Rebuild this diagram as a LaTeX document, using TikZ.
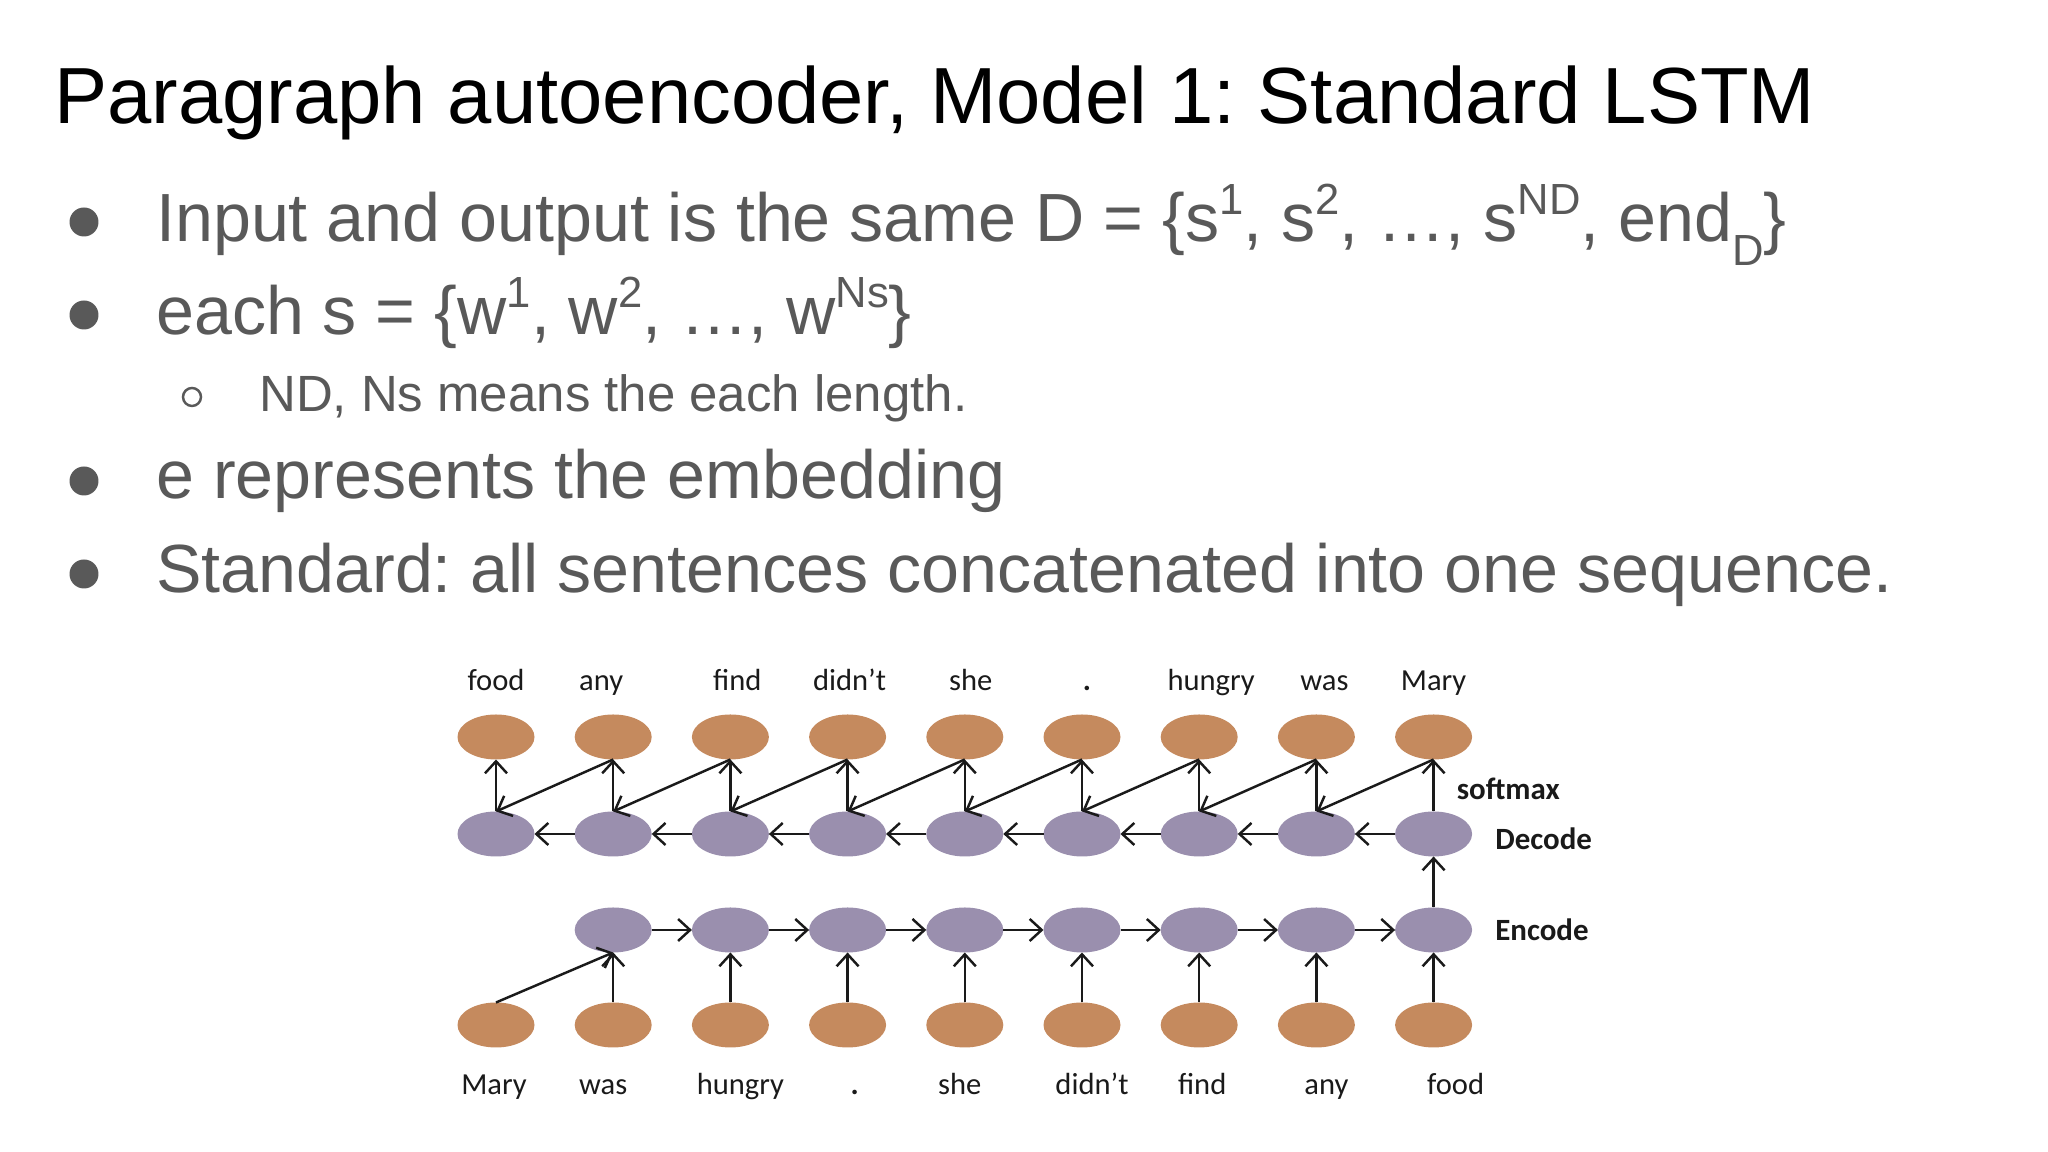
\documentclass[tikz,border=0pt]{standalone}
\usepackage{fontspec}
\setmainfont{Liberation Sans}
\newfontfamily\carlito{Carlito}
\usetikzlibrary{arrows.meta, positioning, shapes.geometric}
\usepackage{xcolor}
\frenchspacing

\definecolor{wordorange}{HTML}{C58A5E}
\definecolor{cellpurple}{HTML}{9A8FAE}
\definecolor{bulletgray}{HTML}{595959}
\definecolor{diagink}{HTML}{1A1A1A}

\newcommand{\supx}[1]{\raisebox{0.40em}{\fontsize{12.4}{12}\selectfont #1}}
\newcommand{\subx}[1]{\raisebox{-0.35em}{\fontsize{12.4}{12}\selectfont #1}}

\begin{document}
\begin{tikzpicture}[
  wordcell/.style ={ellipse, fill=wordorange, minimum width=0.77cm, minimum height=0.45cm, inner sep=0pt, outer sep=0pt},
  lstmcell/.style ={ellipse, fill=cellpurple, minimum width=0.77cm, minimum height=0.45cm, inner sep=0pt, outer sep=0pt},
  tok/.style      ={font=\carlito\fontsize{8.7}{10}\selectfont, text=diagink, inner sep=0pt},
  tag/.style      ={font=\carlito\bfseries\fontsize{8.8}{10}\selectfont, text=diagink, inner sep=0pt},
  slidetext/.style={anchor=base west, inner sep=0pt, text=bulletgray, font=\fontsize{19.4}{23}\selectfont},
  bulletdot/.style={circle, fill=bulletgray, minimum size=0.29cm, inner sep=0pt},
  subdot/.style   ={circle, draw=bulletgray, line width=0.7pt, minimum size=0.18cm, inner sep=0pt},
  ->, >={Straight Barb[length=1.2mm, width=2.2mm]}, line width=0.7pt, diagink
]
\useasboundingbox (0,0) rectangle (20.48,11.52);

% slide text
\node[anchor=base west, inner sep=0pt, text=black, font=\fontsize{22.65}{27}\selectfont] (title) at (0.53,10.28)
  {Paragraph autoencoder, Model 1: Standard LSTM};

\node[slidetext] (b1) at (1.55,9.10)
  {Input and output is the same D = \{s\supx{1}, s\supx{2}, …, s\supx{ND}, end\subx{D}\}};
\node[slidetext] (b2) at (1.55,8.17)
  {each s = \{w\supx{1}, w\supx{2}, …, w\supx{Ns}\}};
\node[slidetext, font=\fontsize{14.5}{17}\selectfont] (sb1) at (2.58,7.40)
  {ND, Ns means the each length.};
\node[slidetext] (b3) at (1.55,6.53) {e represents the embedding};
\node[slidetext] (b4) at (1.55,5.59) {Standard: all sentences concatenated into one sequence.};

\node[bulletdot] (d1) at (0.84,9.30) {};
\node[bulletdot] (d2) at (0.84,8.37) {};
\node[subdot]    (d3) at (1.92,7.55) {};
\node[bulletdot] (d4) at (0.84,6.71) {};
\node[bulletdot] (d5) at (0.84,5.78) {};

% cells
\node[lstmcell] (dec0) at (4.96,3.18) {};
\foreach \i [count=\j from 0] in {1,...,8}
  \node[lstmcell, right=0.402cm of dec\j] (dec\i) {};
\foreach \i in {0,...,8}{
  \node[wordcell, above=0.52cm of dec\i] (top\i) {};
  \node[wordcell, below=1.46cm of dec\i] (bot\i) {};
}
\foreach \i in {1,...,8}
  \node[lstmcell, below=0.51cm of dec\i] (enc\i) {};

% words
\foreach \w/\dx [count=\i from 0] in {food/0, any/-0.12, find/0.07, didn’t/0.02, she/0.06,
    {\textbf{.}}/0.05, hungry/0.12, was/0.08, Mary/0}
  \node[tok, above=0.235cm of top\i, anchor=base, xshift=\dx cm] (out\i) {\w};
\foreach \w/\dx [count=\i from 0] in {Mary/-0.02, was/-0.10, hungry/0.10, {\textbf{.}}/0.07,
    she/-0.05, didn’t/0.10, find/0.03, any/0.10, food/0.22}
  \node[tok, below=0.475cm of bot\i, anchor=base, xshift=\dx cm] (in\i) {\w};

\node[tag, right=0.22cm of dec8, yshift=-0.05cm] (declbl) {Decode};
\node[tag, right=0.22cm of enc8] (enclbl) {Encode};

% connectors
\foreach \i [count=\j from 0] in {1,...,8}{
  \draw (dec\i) -- (dec\j);
  \draw (top\i.south) -- (dec\j.north);
}
\foreach \i in {0,...,7}
  \draw (dec\i) -- (top\i);
\draw (dec8) -- (top8) node[tag, midway, right=0.22cm, yshift=-0.03cm] (smx) {softmax};

\foreach \i [count=\j from 2] in {1,...,7}
  \draw (enc\i) -- (enc\j);
\foreach \i in {1,...,8}
  \draw (bot\i) -- (enc\i);
\draw (bot0.north) -- (enc1.south);
\draw (enc8) -- (dec8);

\end{tikzpicture}
\end{document}
